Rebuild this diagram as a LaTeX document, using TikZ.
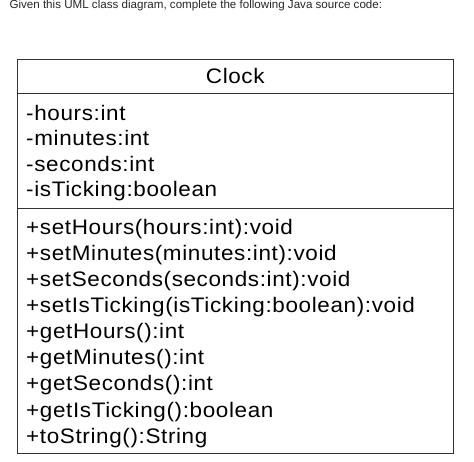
\documentclass[tikz,border=0pt]{standalone}
\usepackage{fontspec}
\setmainfont{Liberation Sans}
\newfontfamily\umlfont[LetterSpace=3,FakeStretch=1.07]{Liberation Sans}
\begin{document}
\begin{tikzpicture}[x=1pt,y=-1pt,
  member/.style={anchor=base west,inner sep=0pt,font=\umlfont\fontsize{21}{21}\selectfont},
  frame/.style={draw=black!80,line width=1pt}]
\useasboundingbox (0,0) rectangle (474,461);
\node[anchor=base west,inner sep=0pt,font=\fontsize{11.6}{11.6}\selectfont,text=black!85] (intro) at (9.3,8.7) {Given this UML class diagram, complete the following Java source code:};
\draw[frame] (17.5,59) rectangle (453,453);
\draw[frame] (17.5,93.7) -- (453,93.7);
\draw[frame] (17.5,208) -- (453,208);
\node[anchor=base,inner sep=0pt,font=\umlfont\fontsize{21}{21}\selectfont] (title) at (235.25,83.3) {Clock};
\node[member] (a1) at (26,120) {-hours:int};
\node[member] (a2) at (26,145.5) {-minutes:int};
\node[member] (a3) at (26,171) {-seconds:int};
\node[member] (a4) at (26,196.5) {-isTicking:boolean};
\node[member] (m1) at (26,234.3) {+setHours(hours:int):void};
\node[member] (m2) at (26,260.4) {+setMinutes(minutes:int):void};
\node[member] (m3) at (26,286.5) {+setSeconds(seconds:int):void};
\node[member] (m4) at (26,312.6) {+setIsTicking(isTicking:boolean):void};
\node[member] (m5) at (26,338.7) {+getHours():int};
\node[member] (m6) at (26,364.8) {+getMinutes():int};
\node[member] (m7) at (26,390.9) {+getSeconds():int};
\node[member] (m8) at (26,417) {+getIsTicking():boolean};
\node[member] (m9) at (26,443.1) {+toString():String};
\end{tikzpicture}
\end{document}
